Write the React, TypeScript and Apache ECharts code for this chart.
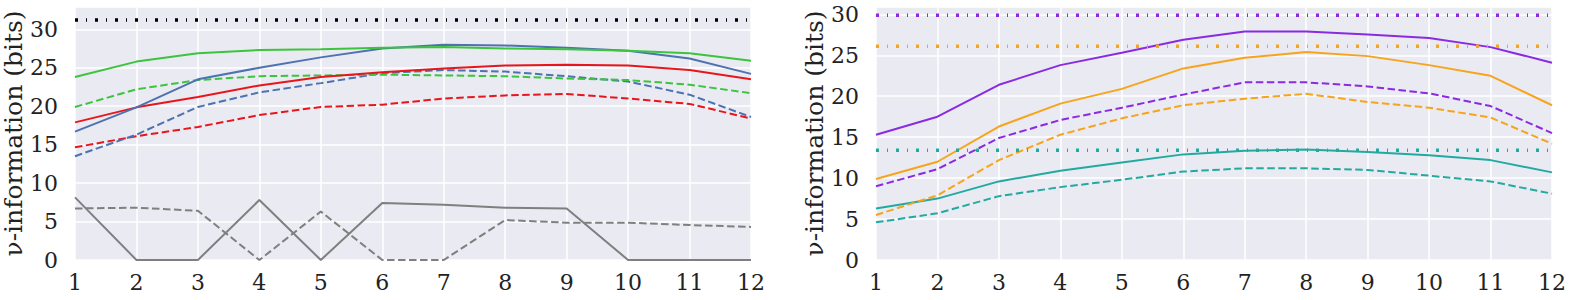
import React, { useEffect, useRef } from "react";
import * as echarts from "echarts";

const LAYERS = [1, 2, 3, 4, 5, 6, 7, 8, 9, 10, 11, 12];

// Left panel
const LEFT_REF = 31.2;
const greenSolid = [23.8, 25.8, 26.9, 27.3, 27.4, 27.6, 27.7, 27.5, 27.4, 27.2, 26.9, 25.9];
const blueSolid = [16.7, 19.85, 23.5, 25.0, 26.35, 27.5, 28.0, 27.9, 27.6, 27.2, 26.2, 24.2];
const redSolid = [17.9, 19.85, 21.2, 22.7, 23.8, 24.4, 24.9, 25.3, 25.4, 25.3, 24.7, 23.5];
const greenDashed = [19.9, 22.2, 23.4, 23.9, 24.0, 24.1, 24.0, 23.9, 23.6, 23.4, 22.8, 21.7];
const blueDashed = [13.5, 16.3, 19.9, 21.8, 23.0, 24.3, 24.7, 24.5, 23.9, 23.2, 21.5, 18.6];
const redDashed = [14.65, 16.1, 17.3, 18.85, 19.9, 20.2, 21.0, 21.4, 21.6, 21.0, 20.3, 18.4];
const graySolid = [8.15, 0, 0, 7.8, 0, 7.4, 7.2, 6.8, 6.7, 0, 0, 0];
const grayDashed = [6.7, 6.8, 6.4, 0, 6.3, 0, 0, 5.2, 4.85, 4.85, 4.55, 4.3];

// Right panel
const PURPLE_REF = 29.9;
const ORANGE_REF = 26.1;
const TEAL_REF = 13.4;
const purpleSolid = [15.3, 17.5, 21.4, 23.8, 25.3, 26.9, 27.9, 27.9, 27.55, 27.1, 26.0, 24.1];
const orangeSolid = [9.9, 12.0, 16.3, 19.1, 20.9, 23.4, 24.7, 25.4, 24.9, 23.8, 22.5, 18.9];
const purpleDashed = [9.0, 11.1, 14.9, 17.1, 18.6, 20.2, 21.7, 21.7, 21.2, 20.35, 18.8, 15.5];
const orangeDashed = [5.5, 7.9, 12.2, 15.3, 17.3, 18.9, 19.7, 20.3, 19.3, 18.6, 17.4, 14.2];
const tealSolid = [6.3, 7.5, 9.6, 10.9, 11.9, 12.9, 13.35, 13.5, 13.2, 12.8, 12.2, 10.7];
const tealDashed = [4.6, 5.7, 7.8, 8.9, 9.8, 10.8, 11.2, 11.2, 11.0, 10.3, 9.6, 8.1];

const Y_TITLE = "ν-information (bits)";

const FONT = "DejaVu Serif";
const GREEN = "#3cc43c";
const BLUE = "#4c72b0";
const RED = "#e8161c";
const GRAY = "#7f7f7f";
const PURPLE = "#8a2be2";
const ORANGE = "#f7a41d";
const TEAL = "#22aaa0";

const DASH = [7.5, 3.5];
const DASHDOT = [3, 8, 1, 8];

function pairs(vals: number[]) {
  return LAYERS.map((x, i) => [x, vals[i]]);
}

function refLine(v: number) {
  return [
    [LAYERS[0], v],
    [LAYERS[LAYERS.length - 1], v],
  ];
}

function lineSeries(idx: number, vals: number[], color: string, dashed: boolean, z = 3) {
  return {
    type: "line",
    xAxisIndex: idx,
    yAxisIndex: idx,
    data: pairs(vals),
    showSymbol: false,
    symbol: "none",
    z,
    lineStyle: { color, width: 2, type: dashed ? DASH : "solid" },
    emphasis: { disabled: true },
  };
}

function refSeries(idx: number, v: number, color: string) {
  return {
    type: "line",
    xAxisIndex: idx,
    yAxisIndex: idx,
    data: refLine(v),
    showSymbol: false,
    symbol: "none",
    z: 4,
    lineStyle: { color, width: 3.5, type: DASHDOT, cap: "butt" },
    emphasis: { disabled: true },
  };
}

function xAxis(idx: number) {
  return {
    type: "value",
    gridIndex: idx,
    min: 1,
    max: 12,
    interval: 1,
    axisLine: { show: false },
    axisTick: { show: false },
    axisLabel: { fontFamily: FONT, fontSize: 22, color: "#222", margin: 11 },
    splitLine: { show: true, lineStyle: { color: "#ffffff", width: 1.5 } },
  };
}

function yAxis(idx: number, max: number) {
  return {
    type: "value",
    gridIndex: idx,
    min: 0,
    max,
    interval: 5,
    name: Y_TITLE,
    nameLocation: "middle",
    nameGap: 49,
    nameRotate: 90,
    nameTextStyle: { fontFamily: FONT, fontSize: 25, color: "#222" },
    axisLine: { show: false },
    axisTick: { show: false },
    axisLabel: {
      fontFamily: FONT,
      fontSize: 22,
      color: "#222",
      margin: 17,
      formatter: (v: number) => (Math.abs(v % 5) < 1e-9 ? String(v) : ""),
    },
    splitLine: { show: true, lineStyle: { color: "#ffffff", width: 1.5 } },
  };
}

export default function App() {
  const ref = useRef<HTMLDivElement>(null);
  useEffect(() => {
    if (!ref.current) return;
    const chart = echarts.init(ref.current, null, { renderer: "svg" });
    chart.setOption({
      animation: false,
      backgroundColor: "#ffffff",
      textStyle: { fontFamily: FONT },
      grid: [
        { left: 74, right: 818, top: 7, bottom: 40, show: true, backgroundColor: "#EAEAF2", borderWidth: 0 },
        { left: 876, right: 16, top: 7, bottom: 40, show: true, backgroundColor: "#EAEAF2", borderWidth: 0 },
      ],
      xAxis: [xAxis(0), xAxis(1)],
      yAxis: [yAxis(0, 32.9), yAxis(1, 30.9)],
      series: [
        lineSeries(0, graySolid, GRAY, false),
        lineSeries(0, grayDashed, GRAY, true),
        lineSeries(0, redDashed, RED, true),
        lineSeries(0, blueDashed, BLUE, true),
        lineSeries(0, greenDashed, GREEN, true),
        lineSeries(0, redSolid, RED, false),
        lineSeries(0, blueSolid, BLUE, false),
        lineSeries(0, greenSolid, GREEN, false),
        refSeries(0, LEFT_REF, "#000000"),
        lineSeries(1, tealDashed, TEAL, true),
        lineSeries(1, tealSolid, TEAL, false),
        lineSeries(1, orangeDashed, ORANGE, true),
        lineSeries(1, purpleDashed, PURPLE, true),
        lineSeries(1, orangeSolid, ORANGE, false),
        lineSeries(1, purpleSolid, PURPLE, false),
        refSeries(1, PURPLE_REF, PURPLE),
        refSeries(1, ORANGE_REF, ORANGE),
        refSeries(1, TEAL_REF, TEAL),
      ],
    });
    return () => chart.dispose();
  }, []);
  return <div ref={ref} style={{ width: 1569, height: 300, position: "absolute", left: 0, top: 0 }} />;
}
